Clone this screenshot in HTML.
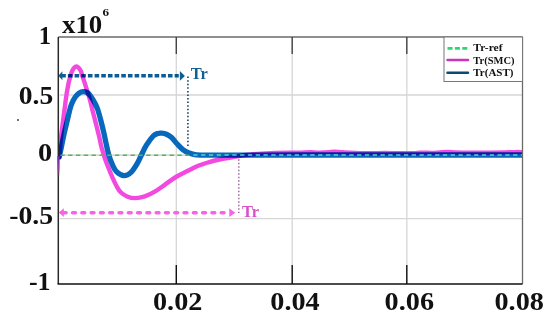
<!DOCTYPE html>
<html><head><meta charset="utf-8"><title>Tr response</title>
<style>html,body{margin:0;padding:0;background:#fff;width:550px;height:319px;overflow:hidden}svg{display:block}</style>
</head><body>
<svg width="550" height="319" viewBox="0 0 550 319">
<rect width="550" height="319" fill="#fff"/>
<line x1="176.3" y1="37.0" x2="176.3" y2="284.0" stroke="#d6d6d6" stroke-width="1.3"/>
<line x1="292.2" y1="37.0" x2="292.2" y2="284.0" stroke="#d6d6d6" stroke-width="1.3"/>
<line x1="406.8" y1="37.0" x2="406.8" y2="284.0" stroke="#d6d6d6" stroke-width="1.3"/>
<line x1="59.8" y1="95.0" x2="522.5" y2="95.0" stroke="#d6d6d6" stroke-width="1.3"/>
<line x1="59.8" y1="155.2" x2="522.5" y2="155.2" stroke="#d6d6d6" stroke-width="1.3"/>
<line x1="59.8" y1="218.7" x2="522.5" y2="218.7" stroke="#d6d6d6" stroke-width="1.3"/>
<line x1="59" y1="155.2" x2="522" y2="155.2" stroke="#c8dcc8" stroke-width="1"/>
<defs><clipPath id="pc"><rect x="58.3" y="37" width="464.2" height="247"/></clipPath></defs>
<g clip-path="url(#pc)">
<path d="M59.4,157.0 C59.6,154.5 60.2,146.5 60.6,142.0 C61.0,137.5 61.4,134.0 61.9,130.0 C62.4,126.0 62.9,122.0 63.4,118.0 C63.9,114.0 64.5,110.0 65.0,106.0 C65.5,102.0 66.0,98.0 66.6,94.0 C67.2,90.0 68.2,84.9 68.8,82.0 C69.4,79.1 69.9,78.3 70.4,76.5 C71.0,74.7 71.5,72.6 72.1,71.2 C72.7,69.8 73.3,68.8 74.0,68.0 C74.7,67.2 75.7,66.4 76.5,66.4 C77.3,66.4 78.1,67.2 78.8,68.0 C79.5,68.8 80.3,69.8 80.9,71.2 C81.5,72.6 81.9,74.7 82.5,76.5 C83.1,78.3 83.7,79.9 84.4,82.0 C85.1,84.1 86.0,87.0 86.6,89.0 C87.2,91.0 87.6,92.2 88.2,94.0 C88.8,95.8 89.3,97.3 90.0,100.0 C90.7,102.7 91.6,106.7 92.4,110.0 C93.2,113.3 94.2,116.7 95.0,120.0 C95.8,123.3 96.8,127.0 97.5,130.0 C98.2,133.0 98.9,135.2 99.5,138.0 C100.1,140.8 100.6,143.7 101.3,146.5 C102.0,149.3 102.8,151.8 103.8,155.0 C104.8,158.2 106.0,161.7 107.5,165.5 C109.0,169.3 111.0,174.2 112.5,177.6 C114.0,181.0 115.1,183.6 116.5,186.0 C117.9,188.4 118.9,190.5 120.7,192.3 C122.5,194.1 125.2,195.7 127.6,196.7 C130.0,197.7 132.4,198.1 135.3,198.1 C138.2,198.1 141.5,197.5 144.8,196.4 C148.1,195.3 151.8,193.4 155.2,191.4 C158.6,189.4 161.6,187.0 165.0,184.6 C168.4,182.2 172.3,179.2 175.9,177.0 C179.5,174.8 183.2,173.1 186.8,171.3 C190.4,169.5 194.1,167.5 197.7,166.0 C201.3,164.5 205.0,163.4 208.6,162.3 C212.2,161.2 215.8,160.3 219.5,159.5 C223.2,158.7 227.1,158.1 230.5,157.5 C233.9,156.9 236.8,156.3 240.0,155.8 C243.2,155.3 246.3,155.0 250.0,154.6 C253.7,154.2 257.8,153.9 262.0,153.6 C266.2,153.3 270.3,153.2 275.0,153.0 C279.7,152.8 285.8,152.7 290.0,152.7 C294.2,152.7 296.7,152.9 300.0,152.8 C303.3,152.7 307.0,152.1 310.0,152.1 C313.0,152.1 315.2,152.7 318.0,152.7 C320.8,152.7 324.3,152.3 327.0,152.2 C329.7,152.0 331.5,151.8 334.0,151.8 C336.5,151.8 338.5,152.1 342.0,152.3 C345.5,152.5 350.3,152.8 355.0,153.0 C359.7,153.2 365.0,153.2 370.0,153.2 C375.0,153.2 380.0,153.0 385.0,153.0 C390.0,153.0 395.0,153.2 400.0,153.2 C405.0,153.2 411.0,153.2 415.0,153.1 C419.0,153.0 421.2,152.6 424.0,152.6 C426.8,152.6 429.3,153.0 432.0,153.0 C434.7,153.0 437.3,152.6 440.0,152.4 C442.7,152.2 445.3,151.9 448.0,151.9 C450.7,151.9 452.3,152.3 456.0,152.5 C459.7,152.7 464.3,152.8 470.0,152.8 C475.7,152.8 484.2,152.8 490.0,152.7 C495.8,152.6 500.8,152.5 505.0,152.4 C509.2,152.3 512.2,152.2 515.0,152.1 C517.8,152.0 520.8,152.1 522.0,152.1" fill="none" stroke="#f24ae0" stroke-width="4.4" stroke-linejoin="round" stroke-linecap="round"/>
<path d="M59.2,157.0 C59.5,155.8 60.2,152.8 60.8,150.0 C61.4,147.2 62.1,143.3 62.8,140.0 C63.5,136.7 64.2,133.3 65.0,130.0 C65.8,126.7 66.6,123.3 67.4,120.0 C68.2,116.7 69.0,112.8 69.7,110.0 C70.4,107.2 70.9,105.7 71.8,103.5 C72.7,101.3 74.1,98.7 75.3,97.0 C76.5,95.3 77.7,94.1 79.0,93.2 C80.3,92.3 81.9,91.7 83.3,91.6 C84.7,91.5 86.1,91.9 87.3,92.6 C88.5,93.3 89.3,94.2 90.6,96.0 C91.9,97.8 93.9,101.2 95.1,103.5 C96.3,105.8 97.0,107.2 97.9,110.0 C98.8,112.8 99.7,116.2 100.7,120.0 C101.7,123.8 102.9,128.8 103.8,132.6 C104.7,136.4 105.2,139.3 106.0,143.0 C106.8,146.7 107.7,151.2 108.8,155.0 C109.9,158.8 111.5,162.7 112.8,165.5 C114.1,168.3 114.9,170.3 116.8,172.0 C118.7,173.7 121.6,175.5 124.0,175.6 C126.4,175.7 128.8,174.4 131.0,172.3 C133.2,170.2 135.6,166.2 137.3,163.3 C139.0,160.4 139.9,158.0 141.4,155.0 C142.9,152.0 144.4,148.4 146.4,145.2 C148.4,142.0 151.3,138.0 153.2,136.0 C155.1,134.0 156.5,133.9 158.0,133.4 C159.5,132.9 160.6,133.0 162.0,133.2 C163.4,133.3 164.9,133.6 166.5,134.3 C168.1,135.0 169.8,135.9 171.6,137.5 C173.4,139.1 175.3,142.0 177.2,144.0 C179.1,146.0 181.0,148.1 182.9,149.6 C184.8,151.1 186.5,152.0 188.5,152.8 C190.5,153.6 192.2,154.2 195.0,154.6 C197.8,155.0 199.2,155.0 205.0,155.1 C210.8,155.2 214.2,155.1 230.0,155.1 C245.8,155.1 251.3,155.0 300.0,155.0 C348.7,155.0 485.0,155.0 522.0,155.0" fill="none" stroke="#0868bc" stroke-width="5.3" stroke-linejoin="round" stroke-linecap="round" style="mix-blend-mode:multiply"/>
</g>
<line x1="60.4" y1="155.2" x2="193" y2="155.2" stroke="#58b458" stroke-width="1.35" stroke-dasharray="4.3 3.5"/>
<line x1="193.3" y1="155.0" x2="522" y2="155.0" stroke="#4fd4cc" stroke-width="1.7" stroke-dasharray="4.3 3.5"/>
<line x1="61.23" y1="75.8" x2="178.8" y2="75.8" stroke="#0b5d93" stroke-width="3.6" stroke-dasharray="4.6 2.07" style="mix-blend-mode:multiply"/>
<polygon points="58.4,75.7 62.4,71.2 62.4,80.3" fill="#0b5d93"/>
<polygon points="184.9,75.9 179.9,71 179.9,80.7" fill="#0b5d93"/>
<line x1="187.9" y1="76.6" x2="187.9" y2="148" stroke="#1b4f78" stroke-width="1.7" stroke-dasharray="1.5 2.07"/>
<text transform="translate(190.8,78.9) scale(1.03,1)" font-family="Liberation Serif" font-weight="bold" font-size="16" fill="#135f92">Tr</text>
<line x1="63.26" y1="212.7" x2="224.1" y2="212.7" stroke="#f962e4" stroke-width="3.4" stroke-dasharray="2.9 6.39" stroke-linecap="round"/>
<polygon points="58.8,212.6 63.8,208.2 63.8,216.9" fill="#f962e4"/>
<polygon points="235.2,212.7 229.3,208.2 229.3,217.1" fill="#f962e4"/>
<line x1="238.8" y1="159.3" x2="238.8" y2="213" stroke="#a06c9e" stroke-width="1.5" stroke-dasharray="1.5 2"/>
<text x="242" y="216.9" font-family="Liberation Serif" font-weight="bold" font-size="16.5" fill="#d94fc8">Tr</text>
<line x1="58.3" y1="37.0" x2="522.5" y2="37.0" stroke="#6a6a6a" stroke-width="1.5"/>
<line x1="522.5" y1="37.0" x2="522.5" y2="284.0" stroke="#6a6a6a" stroke-width="1.3"/>
<line x1="58.3" y1="37.0" x2="58.3" y2="284.0" stroke="#2a2a2a" stroke-width="1.5"/>
<line x1="57.6" y1="284.0" x2="522.5" y2="284.0" stroke="#111" stroke-width="1.7"/>
<defs><linearGradient id="sg" x1="0" y1="0" x2="0" y2="1"><stop offset="0" stop-color="#6a2aa8"/><stop offset="0.6" stop-color="#9a3aa8"/><stop offset="1" stop-color="#9a5aa0" stop-opacity="0.2"/></linearGradient></defs>
<rect x="57.4" y="156" width="2.2" height="20" fill="url(#sg)"/>
<line x1="176.3" y1="284.0" x2="176.3" y2="265.0" stroke="#111" stroke-width="1.4"/>
<line x1="176.3" y1="37.0" x2="176.3" y2="54.0" stroke="#444" stroke-width="1.4"/>
<line x1="292.2" y1="284.0" x2="292.2" y2="265.0" stroke="#111" stroke-width="1.4"/>
<line x1="292.2" y1="37.0" x2="292.2" y2="54.0" stroke="#444" stroke-width="1.4"/>
<line x1="406.8" y1="284.0" x2="406.8" y2="265.0" stroke="#111" stroke-width="1.4"/>
<line x1="406.8" y1="37.0" x2="406.8" y2="54.0" stroke="#444" stroke-width="1.4"/>
<rect x="444" y="37" width="78.5" height="44.5" fill="#fff" stroke="#777" stroke-width="1"/>
<line x1="447.5" y1="48.4" x2="468" y2="48.4" stroke="#2ad870" stroke-width="2.6" stroke-dasharray="5 2.4"/>
<line x1="447.5" y1="59.9" x2="468" y2="59.9" stroke="#cc33bb" stroke-width="2.5" stroke-linecap="round"/>
<line x1="447.5" y1="72.8" x2="468" y2="72.8" stroke="#0b4a72" stroke-width="2.5" stroke-linecap="round"/>
<text transform="translate(473.3,51.2) scale(1.1,1)" font-family="Liberation Serif" font-weight="bold" font-size="10.5" fill="#111">Tr-ref</text>
<text transform="translate(473.3,64.3) scale(1.0,1)" font-family="Liberation Serif" font-weight="bold" font-size="10.5" fill="#111">Tr(SMC)</text>
<text transform="translate(473.3,76.4) scale(1.05,1)" font-family="Liberation Serif" font-weight="bold" font-size="10.5" fill="#111">Tr(AST)</text>
<text transform="translate(51.0,43.9) scale(0.950,1)" text-anchor="end" font-family="Liberation Serif" font-weight="bold" font-size="26" fill="#111">1</text>
<text transform="translate(53.2,104.0) scale(1.060,1)" text-anchor="end" font-family="Liberation Serif" font-weight="bold" font-size="26" fill="#111">0.5</text>
<text transform="translate(52.2,161.0) scale(1.090,1)" text-anchor="end" font-family="Liberation Serif" font-weight="bold" font-size="26" fill="#111">0</text>
<text transform="translate(53.2,223.9) scale(1.070,1)" text-anchor="end" font-family="Liberation Serif" font-weight="bold" font-size="26" fill="#111">-0.5</text>
<text transform="translate(50.6,289.9) scale(1.000,1)" text-anchor="end" font-family="Liberation Serif" font-weight="bold" font-size="26" fill="#111">-1</text>
<text transform="translate(177.7,309.8) scale(1.130,1)" text-anchor="middle" font-family="Liberation Serif" font-weight="bold" font-size="25" fill="#111">0.02</text>
<text transform="translate(295.0,309.8) scale(1.130,1)" text-anchor="middle" font-family="Liberation Serif" font-weight="bold" font-size="25" fill="#111">0.04</text>
<text transform="translate(409.3,309.8) scale(1.130,1)" text-anchor="middle" font-family="Liberation Serif" font-weight="bold" font-size="25" fill="#111">0.06</text>
<text transform="translate(519.2,309.8) scale(1.130,1)" text-anchor="middle" font-family="Liberation Serif" font-weight="bold" font-size="25" fill="#111">0.08</text>
<text transform="translate(62,32.5) scale(1.075,1)" font-family="Liberation Serif" font-weight="bold" font-size="25" fill="#111">x10</text>
<text transform="translate(102.6,15.9) scale(1.2,1)" font-family="Liberation Serif" font-weight="bold" font-size="11" fill="#111">6</text>
<circle cx="18" cy="120" r="1" fill="#444"/>
</svg>
</body></html>
